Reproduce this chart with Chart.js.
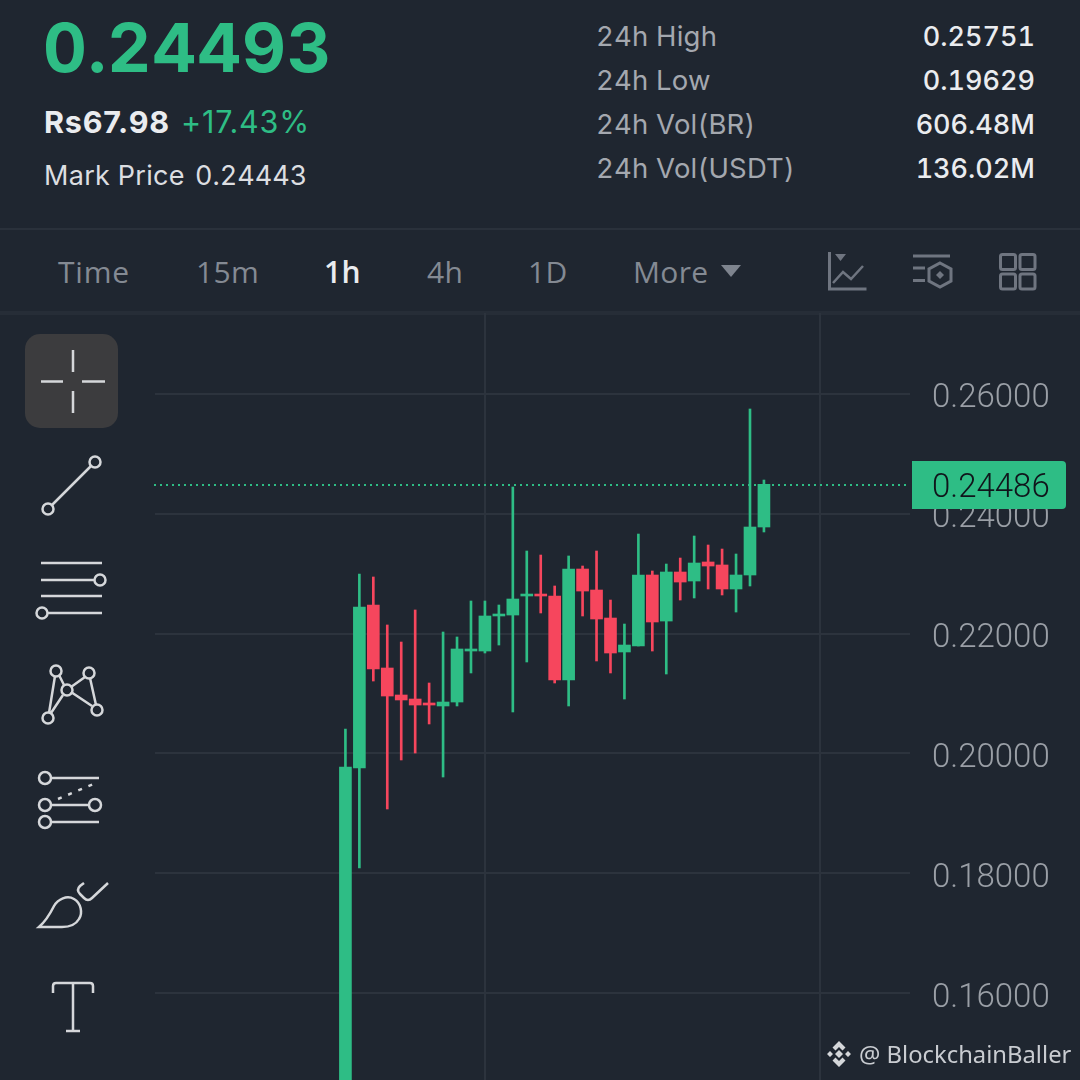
<!DOCTYPE html>
<html>
<head>
<meta charset="utf-8">
<title>BR/USDT 1h</title>
<script src="https://cdn.jsdelivr.net/npm/chart.js@4"></script>
<style>
html, body { margin: 0; padding: 0; background: #1f2630; width: 1080px; height: 1080px; overflow: hidden; }
#page { position: relative; width: 1080px; height: 1080px; }
.t { position: absolute; white-space: nowrap; line-height: 1; font-family: Inter, sans-serif; font-variant-numeric: tabular-nums; }
.lab { font-size: 27.500px; color: #a4a8af; letter-spacing: 0.2px; }
.val { font-size: 27px; font-weight: 500; color: #eaecef; right: 45px; }
.tab { font-family: "Open Sans", sans-serif; font-size: 30px; color: #848a93; top: 257px; letter-spacing: 0.3px; }
.sep { position: absolute; left: 0; width: 1080px; height: 2px; background: #2a313b; }
svg { position: absolute; left: 0; top: 0; }
canvas { position: absolute; left: 0; top: 313px; }
</style>
</head>
<body>
<div id="page">
  <div class="t" style="left:43px;top:13px;font:700 68px Inter,sans-serif;color:#2ebd85;line-height:69px;font-variant-numeric:tabular-nums;letter-spacing:1px">0.24493</div>
  <div class="t" style="left:44px;top:106px;font:700 30.500px Inter,sans-serif;color:#eaecef;line-height:32px;letter-spacing:0.8px">Rs67.98</div>
  <div class="t" style="left:181px;top:106px;font:400 30.500px Inter,sans-serif;color:#2ebd85;line-height:32px;letter-spacing:0.8px">+17.43%</div>
  <div class="t" style="left:44px;top:162px;font-size:27px;color:#dcdee1;letter-spacing:0.3px">Mark Price</div>
  <div class="t" style="left:195px;top:162px;font-size:27px;color:#dcdee1">0.24443</div>

  <div class="t lab" style="left:596px;top:23px">24h High</div>
  <div class="t lab" style="left:596px;top:67px">24h Low</div>
  <div class="t lab" style="left:596px;top:111px">24h Vol(BR)</div>
  <div class="t lab" style="left:596px;top:155px">24h Vol(USDT)</div>
  <div class="t val" style="top:23px">0.25751</div>
  <div class="t val" style="top:67px">0.19629</div>
  <div class="t val" style="top:111px">606.48M</div>
  <div class="t val" style="top:155px">136.02M</div>

  <div class="sep" style="top:228px;height:1.500px"></div>
  <div class="sep" style="top:311px;height:4px;background:#262d37"></div>

  <div class="t tab" style="left:58px;letter-spacing:0.8px">Time</div>
  <div class="t tab" style="left:196px">15m</div>
  <div class="t tab" style="left:324px;color:#eaecef;font-weight:600">1h</div>
  <div class="t tab" style="left:427px">4h</div>
  <div class="t tab" style="left:528px">1D</div>
  <div class="t tab" style="left:633px">More</div>

  <canvas id="priceChart" width="1080" height="767"></canvas>

  <svg width="1080" height="1080" fill="none" style="pointer-events:none">
    <!-- tab bar icons -->
    <path d="M721 265h20l-10 12z" fill="#7e848e"/>
    <g stroke="#6f7580" stroke-width="3">
      <path d="M829.500 252v37h37"/>
      <path d="M833 283l10-11 8 7 12-13" stroke-width="2.500"/>
      <path d="M913 256h37M913 268h12M913 280.500h12"/>
      <path d="M940 263l11 6v12l-11 6-11-6v-12z"/>
      <rect x="1000.500" y="254.500" width="15" height="15" rx="2"/>
      <rect x="1020" y="254.500" width="15" height="15" rx="2"/>
      <rect x="1000.500" y="274" width="15" height="15" rx="2"/>
      <rect x="1020" y="274" width="15" height="15" rx="2"/>
    </g>
    <path d="M835 254h11l-5.500 7z" fill="#6f7580"/>
    <path d="M940 271l4 4-4 4-4-4z" fill="#6f7580"/>

    <!-- drawing tools -->
    <rect x="25" y="334" width="93" height="94" rx="15" fill="#3c3c3e"/>
    <g stroke="#d5d7da" stroke-width="2.500">
      <path d="M73 350v22M73 391v22M41 381.500h22M82 381.500h23"/>
      <path d="M52 505l39-39"/>
      <circle cx="48" cy="509" r="5.500"/><circle cx="95" cy="462" r="5.500"/>
      <path d="M41 563h61M41 580h53M41 596h61M48 613h54"/>
      <circle cx="100" cy="580" r="5.500"/><circle cx="42" cy="613" r="5.500"/>
      <path d="M55 676l-6 37M59 675l5 10M51 713l12-18M71 687l14-10M90 678l6 27M71 692l21 14"/>
      <circle cx="56" cy="671" r="5.500"/><circle cx="89" cy="673" r="5.500"/><circle cx="67" cy="690" r="5.500"/><circle cx="97" cy="710" r="5.500"/><circle cx="48" cy="718" r="5.500"/>
      <path d="M51 778h48M51 805h38M51 822h48"/>
      <path d="M58 799l38-16" stroke-dasharray="4 7"/>
      <circle cx="45" cy="778" r="6"/><circle cx="45" cy="805" r="6"/><circle cx="95" cy="805" r="6"/><circle cx="45" cy="822" r="6"/>
      <path d="M39 927C47 920 51 912 54 906C58 899 67 895 74 899C81 903 83 913 79 919C75 926 68 927 62 927Z"/>
      <path d="M84 883L80 886Q76 890 80 894L84 898Q88 902 92 898L108 883"/>
      <path d="M53 993v-7q0-3 3-3h34q3 0 3 3v7M73 983v48M66 1031h14"/>
    </g>

    <!-- watermark logo -->
    <g fill="#d5d7da">
      <path d="M839 1041l6.500 6.500-3 3-3.500-3.500-3.500 3.500-3-3z"/>
      <path d="M839 1067l-6.500-6.500 3-3 3.500 3.500 3.500-3.500 3 3z"/>
      <path d="M839 1050l4 4-4 4-4-4z"/>
      <path d="M830 1051l3 3-3 3-3-3zM848 1051l3 3-3 3-3-3z"/>
    </g>
  </svg>
  <div class="t" style="left:859px;top:1042px;font:23.800px 'Noto Sans',sans-serif;color:#c9ccd1;line-height:25px">@ BlockchainBaller</div>
</div>

<script>
var yTicks = [0.16, 0.18, 0.20, 0.22, 0.24, 0.26];
var hourIndex = [0,1,2,3,4,5,6,7,8,9,10,11,12,13,14,15,16,17,18,19,20,21,22,23,24,25,26,27,28,29,30];
var opens  = [0.13000,0.19758,0.22475,0.21425,0.20975,0.20908,0.20842,0.20792,0.20858,0.21708,0.21708,0.22292,0.22308,0.22625,0.22658,0.22625,0.21225,0.23075,0.22725,0.22258,0.21692,0.21792,0.22975,0.22208,0.23025,0.22875,0.23192,0.23142,0.22742,0.22975,0.23775];
var closes = [0.19775,0.22442,0.21408,0.20958,0.20892,0.20808,0.20808,0.20858,0.21742,0.21742,0.22292,0.22325,0.22575,0.22658,0.22625,0.21225,0.23075,0.22708,0.22242,0.21675,0.21808,0.22975,0.22192,0.23025,0.22858,0.23175,0.23125,0.22742,0.22975,0.23775,0.24486];
var highs  = [0.20408,0.22992,0.22942,0.22142,0.21858,0.22392,0.21175,0.22025,0.21942,0.22542,0.22542,0.22475,0.24442,0.23375,0.23308,0.22792,0.23292,0.23125,0.23375,0.22558,0.22158,0.23658,0.23042,0.23158,0.23258,0.23625,0.23475,0.23408,0.23325,0.25742,0.24558];
var lows   = [0.12000,0.18092,0.21208,0.19075,0.19892,0.20008,0.20492,0.19608,0.20792,0.21342,0.21675,0.21808,0.20692,0.21525,0.22342,0.21175,0.20792,0.22292,0.21542,0.21342,0.20908,0.21792,0.21708,0.21325,0.22558,0.22592,0.22742,0.22642,0.22358,0.22792,0.23692];
var dayLines = [10, 34];
var lastPrice = 0.24486;

var green = "#2ebd85";
var red = "#f6465d";
var gridColor = "#2c333d";

var candleColors = [];
for (var i = 0; i < opens.length; i++) {
    candleColors.push(closes[i] >= opens[i] ? green : red);
}

var wickData = hourIndex.map(function(h, i) { return {x: h, y: [lows[i], highs[i]]}; });
var bodyData = hourIndex.map(function(h, i) { return {x: h, y: [opens[i], closes[i]]}; });

// price labels, dotted last price line and the green tag on the price axis
var priceLine = {
    id: "priceLine",
    afterDraw: function(chart) {
        var c = chart.ctx;
        var yScale = chart.scales.y;
        var y = Math.ceil(yScale.getPixelForValue(lastPrice));
        var area = chart.chartArea;
        c.save();
        c.font = "300 33px Roboto";
        c.textBaseline = "alphabetic";
        c.textAlign = "left";
        c.fillStyle = "#9a9fa6";
        yScale.ticks.forEach(function(tick) {
            c.fillText(tick.value.toFixed(5), area.right + 22, yScale.getPixelForValue(tick.value) + 13.5);
        });
        c.strokeStyle = green;
        c.lineWidth = 2;
        c.setLineDash([2, 4]);
        c.beginPath();
        c.moveTo(area.left - 1, y);
        c.lineTo(area.right, y);
        c.stroke();
        c.setLineDash([]);
        c.fillStyle = green;
        c.beginPath();
        c.roundRect(area.right + 2, y - 24, 154, 48, [0, 4, 4, 0]);
        c.fill();
        c.fillStyle = "#10151b";
        c.fillText(lastPrice.toFixed(5), area.right + 22, y + 12);
        c.restore();
    }
};

var chart = new Chart(document.getElementById("priceChart").getContext("2d"), {
    type: "bar",
    data: {
        datasets: [
            {label: "Wick", data: wickData, backgroundColor: candleColors, barThickness: 2, borderSkipped: false, order: 2},
            {label: "Body", data: bodyData, backgroundColor: candleColors, barThickness: 12, borderSkipped: false, order: 1}
        ]
    },
    options: {
        responsive: false,
        devicePixelRatio: 1,
        animation: false,
        events: [],
        layout: {autoPadding: false, padding: {left: 155, top: 0, right: 0, bottom: 0}},
        plugins: {legend: {display: false}, tooltip: {enabled: false}},
        scales: {
            x: {
                type: "linear",
                min: -13.65,
                max: 40.47,
                offset: false,
                afterBuildTicks: function(axis) {
                    axis.ticks = dayLines.map(function(v) { return {value: v}; });
                },
                ticks: {display: false},
                border: {display: false},
                grid: {color: gridColor, lineWidth: 2, drawTicks: false, offset: false}
            },
            y: {
                position: "right",
                min: 0.14558,
                max: 0.27342,
                afterBuildTicks: function(axis) {
                    axis.ticks = yTicks.map(function(v) { return {value: v}; });
                },
                // labels are drawn by priceLine, the plot stays 170px from the right edge
                afterFit: function(axis) {
                    axis.width = 170;
                    axis.paddingTop = 0;
                    axis.paddingBottom = 0;
                },
                ticks: {display: false},
                border: {display: false},
                grid: {color: gridColor, lineWidth: 2, drawTicks: false}
            }
        },
        datasets: {bar: {grouped: false}}
    },
    plugins: [priceLine]
});
</script>
</body>
</html>
